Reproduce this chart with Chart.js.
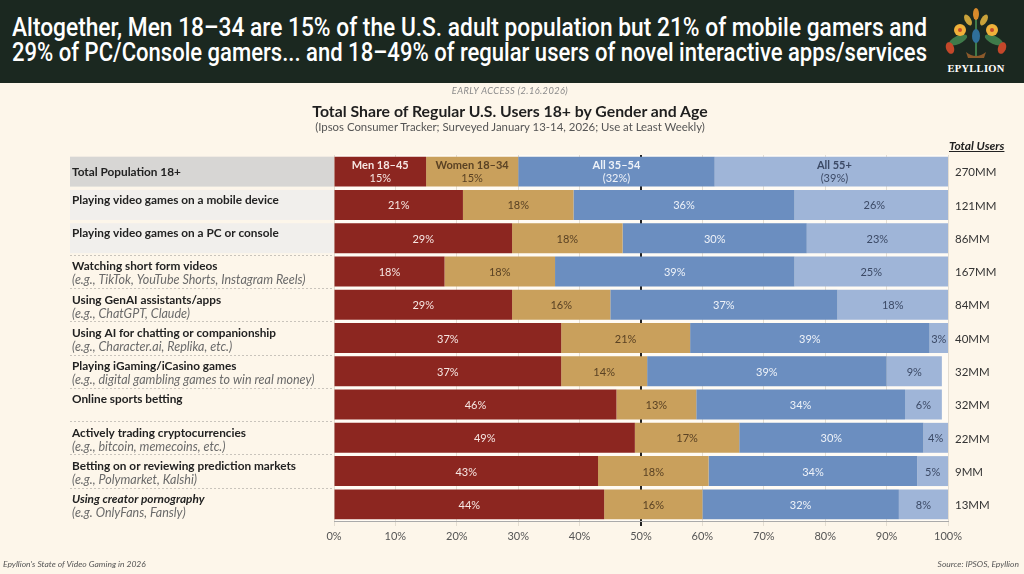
<!DOCTYPE html>
<html>
<head>
<meta charset="utf-8">
<script src="https://cdn.jsdelivr.net/npm/chart.js@4.4.1/dist/chart.umd.min.js"></script>
<style>
  html, body { margin: 0; padding: 0; background: #fdf6ea; }
  #wrap { position: relative; width: 1024px; height: 574px; overflow: hidden; background: #fdf6ea; }
  #chart { position: absolute; left: 0; top: 0; }
  .header { position: absolute; left: 0; top: 0; width: 1024px; height: 83px; background: #1b2820; }
  .hl { position: absolute; left: 12px; color: #fff; white-space: nowrap; transform-origin: 0 0;
    font-family: Roboto, sans-serif; font-size: 25px; line-height: 28px; font-weight: 500; }
  .logo { position: absolute; left: 934px; top: 4px; width: 84px; height: 60px; }
  .logo-text { position: absolute; left: 934px; top: 63px; width: 84px; text-align: center; color: #fff;
    font-family: 'Liberation Serif', 'DejaVu Serif', serif; font-weight: bold; font-size: 10.5px; letter-spacing: 0.3px; }
  .early { position: absolute; left: 0; width: 1020px; top: 85px; text-align: center; color: #8a8a8a;
    font-family: Lato, sans-serif; font-style: italic; font-size: 9.3px; letter-spacing: 0.4px; }
  .title { position: absolute; left: 0; width: 1020px; top: 101px; text-align: center; color: #1f1f1f;
    font-family: Lato, sans-serif; font-weight: bold; font-size: 15.8px; }
  .subtitle { position: absolute; left: 0; width: 1020px; top: 120px; text-align: center; color: #555;
    font-family: Lato, sans-serif; font-size: 11.4px; }
  .tu { position: absolute; left: 949px; top: 138px; color: #222; font-family: Lato, sans-serif;
    font-weight: bold; font-style: italic; font-size: 12px; text-decoration: underline; }
  .foot { position: absolute; top: 559px; color: #555; font-family: Lato, sans-serif; font-style: italic; font-size: 8.5px; }
</style>
</head>
<body>
<div id="wrap">
  <canvas id="chart" width="1024" height="574"></canvas>
  <div class="header">
    <div class="hl" id="hl1" style="top:14px;">Altogether, Men 18–34 are 15% of the U.S. adult population but 21% of mobile gamers and</div>
    <div class="hl" id="hl2" style="top:39px;">29% of PC/Console gamers... and 18–49% of regular users of novel interactive apps/services</div>
    <svg class="logo" viewBox="0 0 84 60">
      <path d="M42 6 L42 52" stroke="#3f7a4a" stroke-width="2"/>
      <ellipse cx="42" cy="10" rx="3" ry="6" fill="#d98a2b"/>
      <ellipse cx="34" cy="16" rx="3" ry="6" fill="#c9a23a" transform="rotate(-30 34 16)"/>
      <ellipse cx="50" cy="16" rx="3" ry="6" fill="#c9a23a" transform="rotate(30 50 16)"/>
      <ellipse cx="24" cy="36" rx="10" ry="4" fill="#3f7a4a" transform="rotate(-25 24 36)"/>
      <ellipse cx="60" cy="36" rx="10" ry="4" fill="#3f7a4a" transform="rotate(25 60 36)"/>
      <circle cx="26" cy="26" r="6" fill="#f0b13a"/>
      <circle cx="58" cy="26" r="6" fill="#f0b13a"/>
      <circle cx="26" cy="26" r="2" fill="#c4472a"/>
      <circle cx="58" cy="26" r="2" fill="#c4472a"/>
      <ellipse cx="16" cy="44" rx="4" ry="6" fill="#c4472a" transform="rotate(-20 16 44)"/>
      <ellipse cx="68" cy="44" rx="4" ry="6" fill="#c4472a" transform="rotate(20 68 44)"/>
      <path d="M32 48 Q42 56 52 48 L50 54 L34 54 Z" fill="#8c5a2b"/>
      <ellipse cx="42" cy="32" rx="4" ry="7" fill="#2f6f9a"/>
    </svg>
    <div class="logo-text">EPYLLION</div>
  </div>
  <div class="early">EARLY ACCESS (2.16.2026)</div>
  <div class="title">Total Share of Regular U.S. Users 18+ by Gender and Age</div>
  <div class="subtitle">(Ipsos Consumer Tracker; Surveyed January 13-14, 2026; Use at Least Weekly)</div>
  <div class="tu">Total Users</div>
  <div class="foot" style="left:3px;">Epyllion's State of Video Gaming in 2026</div>
  <div class="foot" style="right:5px;">Source: IPSOS, Epyllion</div>
</div>
<script>
// rows, top to bottom
const categories = [
  'Total Population 18+',
  'Playing video games on a mobile device',
  'Playing video games on a PC or console',
  'Watching short form videos',
  'Using GenAI assistants/apps',
  'Using AI for chatting or companionship',
  'Playing iGaming/iCasino games',
  'Online sports betting',
  'Actively trading cryptocurrencies',
  'Betting on or reviewing prediction markets',
  'Using creator pornography'
];
const subLabels = [
  '', '', '',
  '(e.g., TikTok, YouTube Shorts, Instagram Reels)',
  '(e.g., ChatGPT, Claude)',
  '(e.g., Character.ai, Replika, etc.)',
  '(e.g., digital gambling games to win real money)',
  '',
  '(e.g., bitcoin, memecoins, etc.)',
  '(e.g., Polymarket, Kalshi)',
  '(e.g. OnlyFans, Fansly)'
];
const italicRows = [10];
const seriesNames = ['Men 18–45', 'Women 18–34', 'All 35–54', 'All 55+'];
const men18    = [15, 21, 29, 18, 29, 37, 37, 46, 49, 43, 44];
const women18  = [15, 18, 18, 18, 16, 21, 14, 13, 17, 18, 16];
const all35    = [32, 36, 30, 39, 37, 39, 39, 34, 30, 34, 32];
const all55    = [39, 26, 23, 25, 18, 3, 9, 6, 4, 5, 8];
const totalUsers = ['270MM', '121MM', '86MM', '167MM', '84MM', '40MM', '32MM', '32MM', '22MM', '9MM', '13MM'];
const xTicks = [0, 10, 20, 30, 40, 50, 60, 70, 80, 90, 100];

const barColors = ['#8c2620', '#c9a05c', '#6b8ec0', '#9fb5d8'];
const textColors = ['#f6e6e2', '#5a4224', '#eef2f8', '#3c4a66'];
const FONT = 'Lato, sans-serif';
const LABEL_LEFT = 70;
const BAR_PCT = 0.9;

// squeeze the headline lines to the width of the band
['hl1', 'hl2'].forEach(id => {
  const el = document.getElementById(id);
  const w = el.getBoundingClientRect().width;
  el.style.transform = 'scaleX(' + (915 / w) + ')';
});

// left column labels, row shading and the total users column
const sidePlugin = {
  id: 'side',
  beforeDraw(chart) {
    const ctx = chart.ctx;
    const area = chart.chartArea;
    ctx.save();
    ctx.fillStyle = '#fffbf4';
    ctx.fillRect(area.left, area.top, area.right - area.left, area.bottom - area.top);
    ctx.restore();
  },
  beforeDatasetsDraw(chart) {
    const ctx = chart.ctx;
    const y = chart.scales.y;
    const area = chart.chartArea;
    const pitch = (area.bottom - area.top) / categories.length;
    const half = pitch * BAR_PCT / 2;
    ctx.save();
    categories.forEach((c, i) => {
      const cy = y.getPixelForValue(i);
      if (i === 0) {
        ctx.fillStyle = '#d7d6d4';
        ctx.fillRect(LABEL_LEFT, cy - half, area.left - LABEL_LEFT, half * 2);
      } else if (i < 3) {
        ctx.fillStyle = '#f1efec';
        ctx.fillRect(LABEL_LEFT, cy - half, area.left - LABEL_LEFT, half * 2);
      }
      if (i > 2) {
        ctx.strokeStyle = '#c9c4bc';
        ctx.setLineDash([2, 2]);
        ctx.lineWidth = 1;
        ctx.beginPath();
        ctx.moveTo(LABEL_LEFT, Math.round(cy - pitch / 2) + 0.5);
        ctx.lineTo(area.left, Math.round(cy - pitch / 2) + 0.5);
        ctx.stroke();
        ctx.setLineDash([]);
      }
      ctx.fillStyle = '#222';
      ctx.textBaseline = 'middle';
      ctx.textAlign = 'left';
      ctx.font = (italicRows.includes(i) ? 'italic ' : '') + 'bold 11.8px ' + FONT;
      ctx.fillText(c, LABEL_LEFT + 2, i === 0 ? cy + 1 : cy - 5);
      if (subLabels[i]) {
        ctx.fillStyle = '#6a6a6a';
        ctx.font = 'italic 12.5px ' + FONT;
        ctx.fillText(subLabels[i], LABEL_LEFT + 2, cy + 9);
      }
      ctx.fillStyle = '#333';
      ctx.font = '11.5px ' + FONT;
      ctx.fillText(totalUsers[i], area.right + 7, cy + 1);
    });
    ctx.restore();
  },
  afterDatasetsDraw(chart) {
    const ctx = chart.ctx;
    const area = chart.chartArea;
    ctx.save();
    ctx.textAlign = 'center';
    ctx.textBaseline = 'middle';
    chart.data.datasets.forEach((ds, d) => {
      const meta = chart.getDatasetMeta(d);
      meta.data.forEach((bar, i) => {
        const cx = Math.min((bar.x + bar.base) / 2, area.right - 6);
        const v = ds.data[i];
        ctx.fillStyle = textColors[d];
        if (i === 0) {
          ctx.font = 'bold 11px ' + FONT;
          ctx.fillText(seriesNames[d], cx, bar.y - 6);
          ctx.font = '11px ' + FONT;
          ctx.fillText(d >= 2 ? '(' + v + '%)' : v + '%', cx, bar.y + 7);
        } else {
          ctx.font = '11px ' + FONT;
          ctx.fillText(v + '%', cx, bar.y + 1);
        }
      });
    });
    ctx.restore();
  }
};

const datasets = [men18, women18, all35, all55].map((arr, k) => ({
  label: seriesNames[k],
  data: arr,
  backgroundColor: barColors[k],
  borderWidth: 0,
  barPercentage: BAR_PCT,
  categoryPercentage: 1
}));

new Chart(document.getElementById('chart'), {
  type: 'bar',
  data: { labels: categories, datasets: datasets },
  options: {
    indexAxis: 'y',
    responsive: false,
    animation: false,
    layout: { padding: { left: 334, right: 76, top: 155, bottom: 0 } },
    plugins: { legend: { display: false }, tooltip: { enabled: false } },
    scales: {
      x: {
        stacked: true,
        min: 0,
        max: 100,
        afterFit(scale) { scale.height = 53; },
        afterBuildTicks(scale) { scale.ticks = xTicks.map(v => ({ value: v })); },
        ticks: { callback: v => v + '%', color: '#555', font: { family: FONT, size: 11 }, padding: 4, maxRotation: 0 },
        grid: {
          drawOnChartArea: true,
          tickLength: 5,
          lineWidth: c => (c.tick && c.tick.value === 50 ? 2 : 1),
          color: c => (c.tick && c.tick.value === 50 ? '#222' : '#e4ddd1')
        },
        border: { color: '#aaa' }
      },
      y: { stacked: true, display: false }
    }
  },
  plugins: [sidePlugin]
});
</script>
</body>
</html>
